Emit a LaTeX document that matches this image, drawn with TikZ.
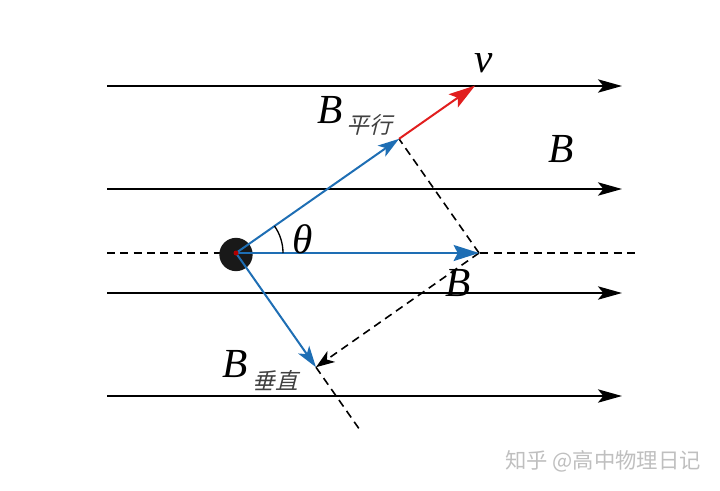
\documentclass[tikz,border=0pt]{standalone}
\usepackage{fontspec}
\setmainfont{Liberation Serif}
\newfontfamily\cjksub[FakeSlant=0.25]{Noto Sans CJK SC}
\newfontfamily\cjkmark{Noto Sans CJK SC}
\usepackage{tikz}
\usetikzlibrary{arrows.meta,calc}
\definecolor{compblue}{RGB}{30,110,180}
\definecolor{velred}{RGB}{225,30,30}

\begin{document}
\begin{tikzpicture}[x=0.75pt,y=-0.75pt,
        line/.style = {draw=black, line width=1.4pt, -{Stealth[length=18pt,width=10pt,inset=4pt]}},
        comp/.style = {draw=compblue, line width=1.5pt, -{Stealth[length=16pt,width=10pt,inset=4pt]}},
        proj/.style = {draw=black, line width=1.2pt, dash pattern=on 6pt off 4pt},
        lab/.style = {inner sep=0pt, anchor=base, font=\fontsize{31}{31}\selectfont\itshape},
        sub/.style = {inner sep=0pt, anchor=base west, font=\fontsize{31}{31}\selectfont\itshape}]
    \useasboundingbox (0,0) rectangle (720,490);
    % field lines
    \foreach \i/\y in {1/86, 2/189, 3/293, 4/396} {
        \coordinate (f\i-a) at (107,\y);
        \coordinate (f\i-b) at (622,\y);
        \path[line] (f\i-a) -- (f\i-b);
    }
    % axis through the charge
    \coordinate (ax-a) at (107,253);
    \coordinate (ax-b) at (635,253);
    \path[proj] (ax-a) -- (ax-b);
    % charge and vector tips
    \coordinate (O) at (236,253);
    \coordinate (Btip) at (479,253);
    \coordinate (Bpar) at ($(O)+(-35:199)$);
    \coordinate (Bperp) at ($(O)+(55:139.4)$);
    \coordinate (vtip) at ($(O)+(-35:292)$);
    \coordinate (perpend) at ($(O)+(55:218)$);
    \node[circle, fill=black!90, minimum size=25pt, inner sep=0pt] (q) at ($(O)+(0,1.5)$) {};
    % projections
    \path[proj] (Btip) -- (Bpar);
    \path[proj] (Bperp) -- (perpend);
    \path[proj, -{Stealth[length=14pt,width=10pt,inset=4pt]}] (Btip) -- (Bperp);
    % components
    \path[comp] (O) -- (Bpar);
    \path[comp] (O) -- (Bperp);
    \path[comp, -{Stealth[length=19pt,width=12pt,inset=3pt]}] (O) -- (Btip);
    \path[draw=velred, line width=1.5pt, -{Stealth[length=20pt,width=12pt,inset=4pt]}] (Bpar) -- (vtip);
    \fill[red!70!black] (O) circle (2.5);
    \draw[line width=1pt] ($(O)+(0:47)$) arc[start angle=0, end angle=-35, radius=47];
    % labels
    \node[lab] (v) at (484,72) {v};
    \node[lab] (Bfield) at (561,162) {B};
    \node[lab] (Bres) at (458,296) {B};
    \node[lab] (theta) at (303,253) {θ};
    \node[sub] (Bpl) at (317,123) {B\hspace{3pt}\raisebox{-7.5pt}{\cjksub\fontsize{17}{17}\selectfont\color{black!75}平行}};
    \node[sub] (Bpr) at (222,377) {B\hspace{4pt}\raisebox{-9.5pt}{\cjksub\fontsize{17}{17}\selectfont\color{black!75}垂直}};
    \node[anchor=base west, inner sep=0pt, text=black!25, font=\cjkmark\fontsize{16}{16}\selectfont] (mark) at (505,468) {知乎 @高中物理日记};
\end{tikzpicture}
\end{document}
